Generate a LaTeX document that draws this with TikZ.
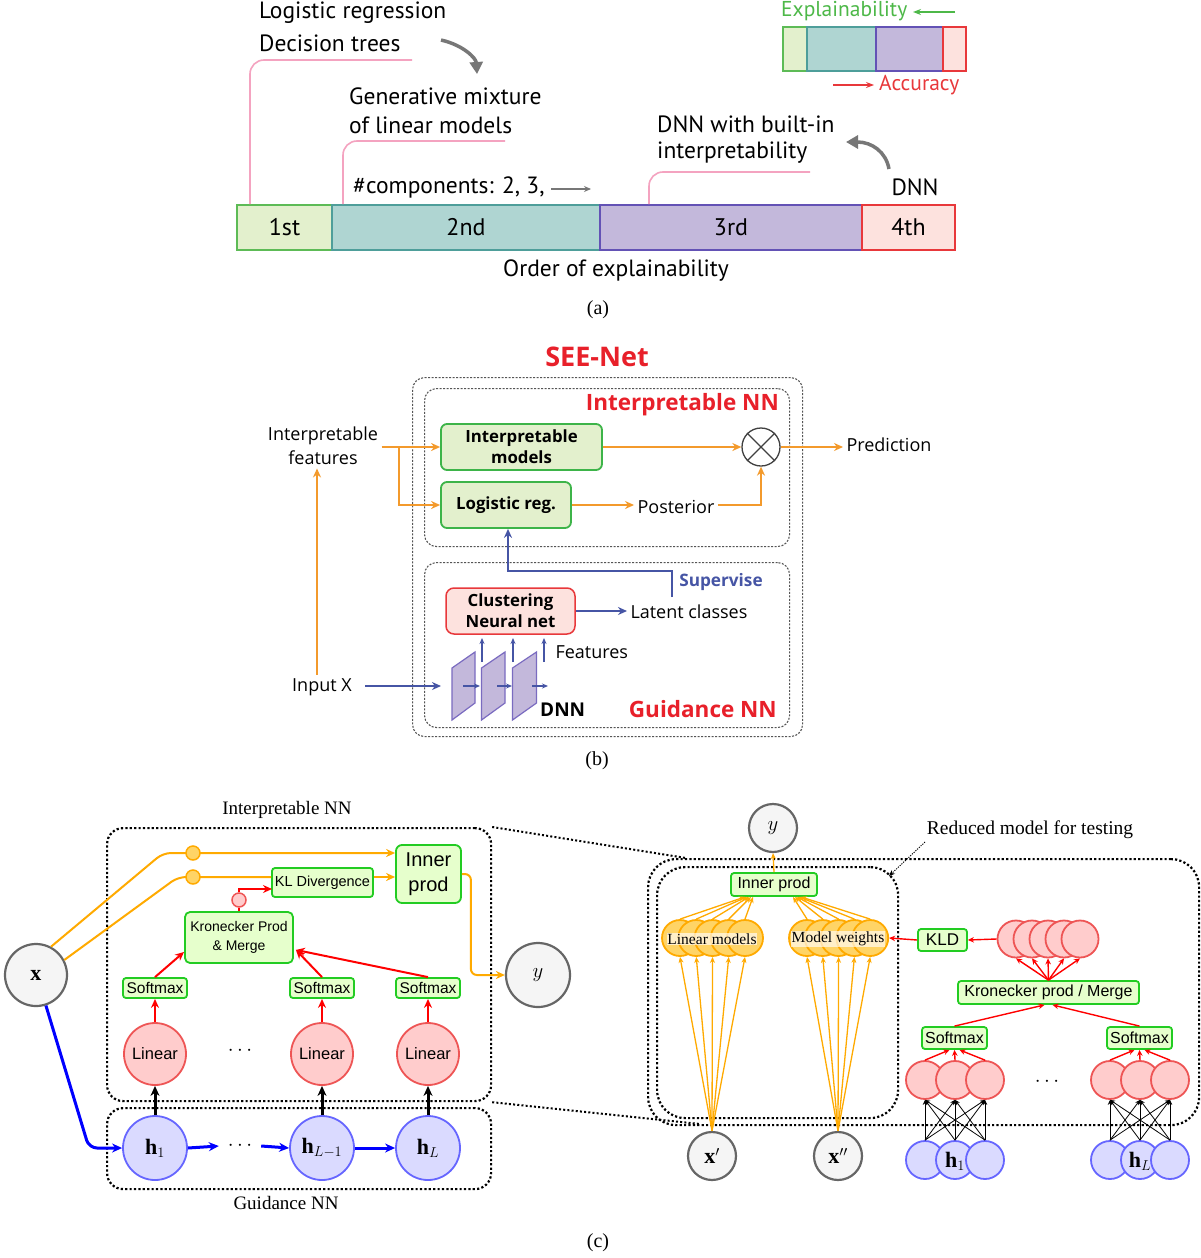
\documentclass[tikz,border=0pt]{standalone}
\usepackage{fontspec}
\setmainfont{Liberation Serif}
\newfontfamily\fa{PT Sans}
\newfontfamily\fb{Open Sans}
\newfontfamily\fc{Liberation Sans}
\usetikzlibrary{arrows.meta,calc}
\definecolor{aG}{HTML}{E3F0CD}
\definecolor{aGd}{HTML}{5DBB56}
\definecolor{aT}{HTML}{AFD5D2}
\definecolor{aTd}{HTML}{4E9E9A}
\definecolor{aP}{HTML}{C3B8DB}
\definecolor{aPd}{HTML}{6352B5}
\definecolor{aR}{HTML}{FDE2DE}
\definecolor{aRd}{HTML}{E8383B}
\definecolor{aPink}{HTML}{F4A3C0}
\definecolor{aGray}{HTML}{777777}
\definecolor{aGreenT}{HTML}{4DB848}
\definecolor{bOr}{HTML}{F39A2C}
\definecolor{bGr}{HTML}{3DB449}
\definecolor{bBl}{HTML}{4655A5}
\definecolor{bRed}{HTML}{E8202A}
\definecolor{bDash}{HTML}{555555}
\definecolor{bPar}{HTML}{7A6BC0}
\definecolor{cOr}{HTML}{FFAA00}
\definecolor{cOrF}{HTML}{FFD466}
\definecolor{cGrF}{HTML}{E6FFCC}
\definecolor{cGr}{HTML}{22CC22}
\definecolor{cPkF}{HTML}{FFCCCC}
\definecolor{cPk}{HTML}{EE5555}
\definecolor{cRed}{HTML}{FF0000}
\definecolor{cBlF}{HTML}{DADAFF}
\definecolor{cBl}{HTML}{6666FF}
\definecolor{cBlA}{HTML}{0000FF}
\definecolor{cGyF}{HTML}{F5F5F5}
\definecolor{cGy}{HTML}{666666}
\tikzset{
 seg/.style={draw, line width=2pt, anchor=north west, minimum height=45pt, inner sep=0pt, font=\fa\fontsize{24}{28}\selectfont},
 lseg/.style={draw, line width=1.6pt, anchor=north west, minimum height=44pt, inner sep=0pt},
 ta/.style={font=\fa\fontsize{23.5}{29}\selectfont, inner sep=0pt, align=left},
 pinkl/.style={draw=aPink, line width=1.6pt, rounded corners=14pt},
 grayarc/.style={draw=aGray, line width=3.5pt, -{Triangle[length=12pt,width=13pt]}},
 dbx/.style={draw=bDash, line width=1.1pt, dash pattern=on 2pt off 1.5pt, rounded corners=12pt, anchor=north west, inner sep=0pt},
 tb/.style={font=\fb\fontsize{18}{24}\selectfont, align=center},
 redb/.style={text=bRed, font=\fb\bfseries\fontsize{22.5}{26}\selectfont, inner sep=0pt},
 gboxb/.style={draw=bGr, fill=aG, line width=1.8pt, rounded corners=6pt, align=center, inner sep=0pt, font=\fb\bfseries\fontsize{16.8}{21}\selectfont},
 rboxb/.style={draw=aRd, fill=aR, line width=1.5pt, rounded corners=8pt, align=center, inner sep=0pt, font=\fb\bfseries\fontsize{16.8}{21}\selectfont},
 boarr/.style={draw=bOr, line width=1.6pt, -{Stealth[length=9pt,width=8pt]}},
 bbarr/.style={draw=bBl, line width=1.6pt, -{Stealth[length=9pt,width=8pt]}},
 bbarrs/.style={draw=bBl, line width=1.2pt, -{Stealth[length=6pt,width=5pt]}},
 par/.style={draw=bPar, fill=aP, line width=1.2pt},
 gbox/.style={draw=cGr, fill=cGrF, line width=1.8pt, rounded corners=3pt, inner sep=0pt, font=\fc\fontsize{15.5}{17}\selectfont},
 pcirc/.style={circle, draw=cPk, fill=cPkF, line width=1.8pt, inner sep=0pt},
 bcirc/.style={circle, draw=cBl, fill=cBlF, line width=1.8pt, inner sep=0pt},
 gcirc/.style={circle, draw=cGy, fill=cGyF, line width=2.2pt, inner sep=0pt, font=\fontsize{22}{24}\selectfont},
 ocirc/.style={circle, draw=cOr, fill=cOrF, line width=1.8pt, inner sep=0pt, minimum size=36pt},
 odot/.style={circle, draw=cOr, fill=cOrF, line width=1.5pt, inner sep=0pt, minimum size=14pt},
 dotbox/.style={draw=black, line width=2.2pt, dash pattern=on 2.2pt off 2.2pt, rounded corners=16pt, anchor=north west, inner sep=0pt},
 zline/.style={draw=black, line width=2pt, dash pattern=on 2pt off 2.2pt},
 oarr/.style={draw=cOr, line width=2pt, -{Stealth[length=9pt,width=8pt]}},
 oarrs/.style={draw=cOr, line width=1.3pt, -{Stealth[length=6pt,width=5pt]}},
 rarr/.style={draw=cRed, line width=2pt, -{Stealth[length=9pt,width=8pt]}},
 rarrs/.style={draw=cRed, line width=1.4pt, -{Stealth[length=6pt,width=5.5pt]}},
 karr/.style={draw=black, line width=3pt, -{Stealth[length=10pt,width=9pt]}},
 karrs/.style={draw=black, line width=0.8pt, -{Stealth[length=5pt,width=4.5pt]}},
 barr/.style={draw=cBlA, line width=3pt, -{Stealth[length=10pt,width=9pt]}},
 lbl/.style={fill=white, fill opacity=0.65, text opacity=1, inner sep=0.5pt, font=\fontsize{15.5}{17}\selectfont},
 serl/.style={font=\fontsize{19}{22}\selectfont, inner sep=0pt},
}
\begin{document}
\begin{tikzpicture}[x=1pt,y=-1pt]
\useasboundingbox (0,0) rectangle (1200,1258);
\fill[white] (0,0) rectangle (1200,1258);
% ================= (a) =================
\node[seg, draw=aGd, fill=aG, minimum width=95pt] (s1) at (236,204) {1st};
\node[seg, draw=aTd, fill=aT, minimum width=268pt] (s2) at (331,204) {2nd};
\node[seg, draw=aPd, fill=aP, minimum width=262pt] (s3) at (599,204) {3rd};
\node[seg, draw=aRd, fill=aR, minimum width=93pt] (s4) at (861,204) {4th};
\node[ta, anchor=west] (lr) at (259,13) {Logistic regression};
\node[ta, anchor=west] (dt) at (259,43) {Decision trees};
\node[ta, anchor=west] (gm) at (349,96) {Generative mixture};
\node[ta, anchor=west] (gm2) at (349,125) {of linear models};
\node[ta, anchor=west] (comp) at (353,187) {\#components: 2, 3,};
\node[ta, anchor=west] (dw) at (657,124) {DNN with built-in};
\node[ta, anchor=west] (dw2) at (657,153) {interpretability};
\node[ta] (dnna) at (915,187) {DNN};
\node[ta] (ord) at (616,271) {Order of explainability};
\node[font=\fontsize{20}{24}\selectfont] (capa) at (598,310) {(a)};
\coordinate (pa1) at (250,204); \coordinate (pa1e) at (412,60);
\coordinate (pa2) at (343,204); \coordinate (pa2e) at (505,141);
\coordinate (pa3) at (649,204); \coordinate (pa3e) at (810,172);
\draw[pinkl] (pa1) |- (pa1e);
\draw[pinkl] (pa2) |- (pa2e);
\draw[pinkl] (pa3) |- (pa3e);
\coordinate (g1a) at (441,40); \coordinate (g1b) at (477,74);
\draw[grayarc] (g1a) .. controls (463,45) and (476,58) .. (g1b);
\coordinate (g2a) at (889,169); \coordinate (g2b) at (846,142);
\draw[grayarc] (g2a) .. controls (886,152) and (872,142) .. (g2b);
\coordinate (ca) at (551,189); \coordinate (cb) at (591,189);
\draw[draw=aGray, line width=1.2pt, -{Stealth[length=7pt,width=6pt]}] (ca) -- (cb);
% legend
\node[lseg, draw=aGd, fill=aG, minimum width=24pt] (l1) at (782,26) {};
\node[lseg, draw=aTd, fill=aT, minimum width=69pt] (l2) at (806,26) {};
\node[lseg, draw=aPd, fill=aP, minimum width=67pt] (l3) at (875,26) {};
\node[lseg, draw=aRd, fill=aR, minimum width=23pt] (l4) at (942,26) {};
\node[ta, anchor=west, text=aGreenT, font=\fa\fontsize{21.5}{24}\selectfont] (expl) at (781,11) {Explainability};
\node[ta, anchor=west, text=aRd, font=\fa\fontsize{21.5}{24}\selectfont] (accu) at (879,85) {Accuracy};
\coordinate (ea) at (955,12); \coordinate (eb) at (913,12);
\draw[draw=aGreenT, line width=1.2pt, -{Stealth[length=8pt,width=6pt]}] (ea) -- (eb);
\coordinate (ra) at (833,85); \coordinate (rb) at (874,85);
\draw[draw=aRd, line width=1.2pt, -{Stealth[length=8pt,width=6pt]}] (ra) -- (rb);
% ================= (b) =================
\node[dbx, minimum width=390pt, minimum height=359pt] (seebox) at (412,377) {};
\node[dbx, minimum width=365pt, minimum height=158pt] (inbox) at (424,388) {};
\node[dbx, minimum width=365pt, minimum height=165pt] (gdbox) at (424,562) {};
\node[redb, font=\fb\bfseries\fontsize{27}{30}\selectfont] (see) at (597,357) {SEE-Net};
\node[redb, anchor=east] (innl) at (779,405) {Interpretable NN};
\node[redb, anchor=east] (gdl) at (777,709) {Guidance NN};
\node[gboxb, minimum width=161pt, minimum height=46pt] (im) at (521.5,447) {Interpretable\\models};
\node[gboxb, minimum width=130pt, minimum height=46pt] (lrb) at (506,505) {Logistic reg.};
\node[rboxb, minimum width=129pt, minimum height=46pt] (cl) at (510.5,611) {Clustering\\Neural net};
\node[circle, draw=black!75, line width=1.3pt, minimum size=38pt, inner sep=0pt] (ot) at (761,447) {};
\draw[black!75, line width=1.3pt] (ot.north west) -- (ot.south east) (ot.north east) -- (ot.south west);
\node[tb] (feat) at (323,446) {Interpretable\\features};
\node[tb, anchor=west] (pred) at (843,445) {Prediction};
\node[tb] (post) at (676,507) {Posterior};
\node[tb, anchor=west] (lat) at (627,612) {Latent classes};
\node[tb, anchor=west] (fts) at (552,652) {Features};
\node[tb] (inp) at (322,687) {Input X};
\node[anchor=west, inner sep=0pt, font=\fb\bfseries\fontsize{19}{22}\selectfont] (dnnb) at (540,710) {DNN};
\node[text=bBl, inner sep=0pt, font=\fb\bfseries\fontsize{17.2}{20}\selectfont] (supl) at (721,582) {Supervise};
\node[font=\fontsize{20}{24}\selectfont] (capb) at (597,761) {(b)};
\coordinate (br) at (399,447);
\coordinate (fx) at (317,0);
\draw[boarr] (feat.east |- im.west) -- (im.west);
\draw[boarr] (br) |- (lrb.west);
\draw[boarr] (im.east) -- (ot.west);
\draw[boarr] (ot.east) -- (pred.west |- ot.east);
\draw[boarr] (lrb.east) -- (post.west |- lrb.east);
\draw[boarr] (post.east |- lrb.east) -| (ot.south);
\draw[boarr] (fx |- inp.north) -- (fx |- feat.south);
\coordinate (dnnin) at (441,686);
\coordinate (inpo) at (365,686);
\draw[bbarr] (inpo) -- (dnnin);
\coordinate (supS) at (672,597);
\draw[bbarr] (supS) |- ($(lrb.south)+(2,42)$) -- ($(lrb.south)+(2,0)$);
\draw[bbarr] (cl.east) -- (lat.west |- cl.east);
\draw[par] (452,668) -- (475,652) -- (475,703) -- (452,720) -- cycle;
\draw[par] (481.5,668) -- (505,652) -- (505,703) -- (481.5,720) -- cycle;
\draw[par] (512.5,668) -- (536.5,652) -- (536.5,703) -- (512.5,720) -- cycle;
\foreach \u/\v in {463/480,497/512,532/548}{
  \coordinate (ha\u) at (\u,686); \coordinate (hb\u) at (\v,686);
  \draw[bbarrs] (ha\u) -- (hb\u);}
\foreach \u in {482,513,544}{
  \coordinate (fa\u) at (\u,662); \coordinate (fb\u) at (\u,638);
  \draw[bbarrs] (fa\u) -- (fb\u);}
% ================= (c) left =================
\node[dotbox, minimum width=384pt, minimum height=273pt] (inn) at (106,827) {};
\node[dotbox, minimum width=384pt, minimum height=81pt] (gdn) at (106,1107) {};
\node[serl] (innlab) at (287,810) {Interpretable NN};
\node[serl] (gdnlab) at (286,1203) {Guidance NN};
\node[gcirc, minimum size=62pt] (xc) at (36,975) {$\mathbf{x}$};
\node[gcirc, minimum size=64pt] (yc) at (538,975) {$y$};
\node[gbox, minimum width=65pt, minimum height=58pt, font=\fc\fontsize{20}{25}\selectfont, align=center, rounded corners=6pt] (ip) at (428.5,874) {Inner\\prod};
\node[gbox, minimum width=101pt, minimum height=29pt, font=\fc\fontsize{14.5}{16}\selectfont] (kl) at (322.5,882.5) {KL Divergence};
\node[gbox, minimum width=108pt, minimum height=51pt, align=center, font=\fc\fontsize{14}{19}\selectfont, rounded corners=5pt] (kr) at (239,937.5) {Kronecker Prod\\\& Merge};
\node[circle, draw=cPk, fill=cPkF, line width=1.5pt, minimum size=14pt, inner sep=0pt] (pc) at (239,900) {};
\foreach \n/\xx in {1/155,2/322,3/428}{
  \node[gbox, minimum width=64pt, minimum height=20pt] (sm\n) at (\xx,988) {Softmax};
  \node[pcirc, minimum size=62pt, font=\fc\fontsize{16.5}{18}\selectfont] (lin\n) at (\xx,1054) {Linear};
}
\node[bcirc, minimum size=64pt, font=\fontsize{22}{24}\selectfont] (h1) at (155,1148) {$\mathbf{h}_1$};
\node[bcirc, minimum size=64pt, font=\fontsize{22}{24}\selectfont] (h2) at (322,1148) {$\mathbf{h}_{L-1}$};
\node[bcirc, minimum size=64pt, font=\fontsize{22}{24}\selectfont] (h3) at (428,1148) {$\mathbf{h}_L$};
\node[minimum width=42pt, inner sep=0pt, font=\fontsize{20}{22}\selectfont] (hd) at (240,1146) {$\cdots$};
\node[inner sep=0pt, font=\fontsize{20}{22}\selectfont] (ld) at (240,1051) {$\cdots$};
\coordinate (o1a) at (163,853);
\coordinate (o2a) at (178,877);
\coordinate (kin) at (272,889);
\draw[oarr, rounded corners=8pt] (xc.62) -- (o1a) -- (ip.west |- o1a);
\draw[draw=cOr, line width=2pt, rounded corners=8pt] (xc.28) -- (o2a) -- (kl.west |- o2a);
\node[odot] (d1) at (193,853) {};
\node[odot] (d2) at (193,877) {};
\draw[oarr] (kl.east |- o2a) -- (ip.west |- o2a);
\draw[oarr, rounded corners=6pt] (ip.east) -| ($(yc.west)+(-34,0)$) -- (yc.west);
\draw[draw=cRed, line width=2pt] (kr.north) -- (pc.south);
\draw[rarr] (pc.north) |- (kin);
\draw[rarr] (sm1.north) -- ($(kr.south west)+(0,-12)$);
\draw[rarr] (sm2.north) -- ($(kr.south east)+(2,-14)$);
\draw[rarr] (sm3.north) -- ($(kr.south east)+(2,-14)$);
\foreach \n in {1,2,3}{
  \draw[rarr] (lin\n.north) -- (sm\n.south);
  \draw[karr] (h\n.north) -- (lin\n.south);}
\draw[barr] (h1.east) -- (hd.west);
\draw[barr] (hd.east) -- (h2.west);
\draw[barr] (h2.east) -- (h3.west);
\coordinate (xb) at (89,1148);
\draw[barr, rounded corners=8pt] (xc.-72) -- (xb) -- (h1.west);
\node[font=\fontsize{20}{24}\selectfont] (capc) at (598,1243) {(c)};
% ================= (c) right =================
\node[dotbox, minimum width=551pt, minimum height=266pt, rounded corners=28pt] (outer) at (647,858) {};
\node[dotbox, minimum width=241pt, minimum height=251pt, rounded corners=28pt] (red) at (656,866) {};
\coordinate (z1) at (686,858); \coordinate (z2) at (700,1124);
\draw[zline] (inn.north east) -- (z1);
\draw[zline] (inn.south east) -- (z2);
\node[serl, font=\fontsize{19.5}{22}\selectfont] (rmt) at (1030,830) {Reduced model for testing};
\coordinate (rmA) at (925,842); \coordinate (rmB) at (889,876);
\draw[black, line width=0.9pt, dash pattern=on 1.2pt off 1.2pt, -{Stealth[length=6pt,width=5pt]}] (rmA) -- (rmB);
\node[gcirc, minimum size=48pt] (y2) at (773,828) {$y$};
\node[gbox, font=\fc\fontsize{16}{18}\selectfont, minimum width=86pt, minimum height=23pt] (ip2) at (774,884.5) {Inner prod};
\draw[oarrs] (ip2.north) -- (y2.south);
\foreach \i in {0,...,4}{\node[ocirc] (lm\i) at ({680+16.25*\i},938) {};}
\foreach \i in {0,...,4}{\node[ocirc] (mw\i) at ({807+15.8*\i},938) {};}
\node[lbl] (lmt) at (712,939) {Linear models};
\node[lbl] (mwt) at (838,939) {Model weights};
\node[gcirc, minimum size=48pt] (xp) at (712,1156) {$\mathbf{x}'$};
\node[gcirc, minimum size=48pt] (xpp) at (838,1156) {$\mathbf{x}''$};
\foreach \i in {0,...,4}{
  \draw[oarrs] (xp.north) -- (lm\i.south);
  \draw[oarrs] (xpp.north) -- (mw\i.south);
  \draw[oarrs] (lm\i.north) -- ($(ip2.south)+({-29+2*\i},0)$);
  \draw[oarrs] (mw\i.north) -- ($(ip2.south)+({19+2*\i},0)$);}
\node[gbox, font=\fc\fontsize{17}{19}\selectfont, minimum width=49pt, minimum height=22pt] (kld) at (942.5,940) {KLD};
\foreach \i in {0,...,4}{\node[pcirc, minimum size=37pt] (pk\i) at ({1016+16*\i},939) {};}
\draw[rarrs] (pk0.west) -- (kld.east);
\draw[rarrs] (kld.west) -- (mw4.east);
\node[gbox, font=\fc\fontsize{16}{18}\selectfont, minimum width=181pt, minimum height=23pt] (kr2) at (1048.5,992.5) {Kronecker prod / Merge};
\foreach \i in {0,...,4}{\draw[rarrs] (kr2.north) -- (pk\i.south);}
\node[gbox, font=\fc\fontsize{16}{18}\selectfont, minimum width=65pt, minimum height=22pt] (sa) at (954.5,1038) {Softmax};
\node[gbox, font=\fc\fontsize{16}{18}\selectfont, minimum width=65pt, minimum height=22pt] (sb) at (1139.5,1038) {Softmax};
\draw[rarrs] (sa.north) -- ($(kr2.south)+(-4,0)$);
\draw[rarrs] (sb.north) -- ($(kr2.south)+(4,0)$);
\foreach \i/\xa/\xb in {0/925/1110,1/955/1140,2/985/1170}{
  \node[pcirc, minimum size=38pt] (pa\i) at (\xa,1080) {};
  \node[pcirc, minimum size=38pt] (pb\i) at (\xb,1080) {};}
\foreach \i/\xa/\xb in {0/925/1110,1/955/1140,2/985/1170}{
  \node[bcirc, minimum size=38pt] (ba\i) at (\xa,1160) {};
  \node[bcirc, minimum size=38pt] (bb\i) at (\xb,1160) {};}
\node[inner sep=0pt, font=\fontsize{22}{24}\selectfont] (h1r) at (955,1161) {$\mathbf{h}_1$};
\node[inner sep=0pt, font=\fontsize{22}{24}\selectfont] (hLr) at (1140,1161) {$\mathbf{h}_L$};
\node[inner sep=0pt, font=\fontsize{20}{22}\selectfont] (rd) at (1047,1082) {$\cdots$};
\foreach \i in {0,1,2}{
  \draw[rarrs] (pa\i.north) -- ($(sa.south)+({-5+5*\i},0)$);
  \draw[rarrs] (pb\i.north) -- ($(sb.south)+({-5+5*\i},0)$);
  \foreach \j in {0,1,2}{
    \draw[karrs] (ba\i.north) -- (pa\j.south);
    \draw[karrs] (bb\i.north) -- (pb\j.south);}}
\end{tikzpicture}
\end{document}
